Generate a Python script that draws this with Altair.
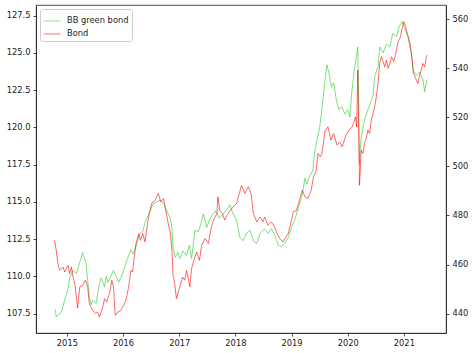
import altair as alt
import pandas as pd

series_names = ["BB green bond", "Bond"]
series_colors = ["#32cd32", "#ff0000"]
x_ticks = [2015, 2016, 2017, 2018, 2019, 2020, 2021]
left_ticks = [107.5, 110.0, 112.5, 115.0, 117.5, 120.0, 122.5, 125.0, 127.5]
right_ticks = [440, 460, 480, 500, 520, 540, 560]

green_year = [2014.79, 2014.81, 2014.84, 2014.90, 2014.96, 2015.02, 2015.05, 2015.11, 2015.17, 2015.20,
              2015.25, 2015.28, 2015.34, 2015.37, 2015.40, 2015.43, 2015.46, 2015.52, 2015.58, 2015.61,
              2015.67, 2015.70, 2015.73, 2015.79, 2015.83, 2015.88, 2015.92, 2015.97, 2016.01, 2016.05,
              2016.11, 2016.14, 2016.18, 2016.23, 2016.29, 2016.35, 2016.39, 2016.48, 2016.54, 2016.60,
              2016.66, 2016.72, 2016.78, 2016.84, 2016.87, 2016.89, 2016.93, 2016.98, 2017.01, 2017.07,
              2017.13, 2017.18, 2017.22, 2017.28, 2017.34, 2017.40, 2017.43, 2017.49, 2017.55, 2017.64,
              2017.72, 2017.78, 2017.84, 2017.90, 2017.96, 2018.02, 2018.08, 2018.14, 2018.20, 2018.26,
              2018.32, 2018.38, 2018.44, 2018.52, 2018.58, 2018.64, 2018.70, 2018.76, 2018.82, 2018.88,
              2018.94, 2019.00, 2019.06, 2019.12, 2019.18, 2019.24, 2019.27, 2019.32, 2019.38, 2019.41,
              2019.44, 2019.50, 2019.54, 2019.59, 2019.63, 2019.67, 2019.71, 2019.75, 2019.80, 2019.84,
              2019.89, 2019.95, 2020.00, 2020.04, 2020.07, 2020.12, 2020.18, 2020.21, 2020.23, 2020.27,
              2020.30, 2020.36, 2020.42, 2020.45, 2020.48, 2020.54, 2020.57, 2020.63, 2020.69, 2020.75,
              2020.80, 2020.87, 2020.92, 2020.97, 2021.01, 2021.07, 2021.13, 2021.16, 2021.22, 2021.28,
              2021.34, 2021.37, 2021.41]
green_value = [107.8, 107.3, 107.4, 107.6, 108.4, 109.2, 109.9, 110.4, 110.2, 110.6,
               111.2, 111.6, 110.9, 109.7, 108.6, 108.1, 108.4, 108.2, 109.5, 109.9,
               109.3, 110.0, 109.6, 110.1, 110.4, 110.0, 109.6, 110.0, 110.4, 110.9,
               111.5, 111.8, 111.5, 112.0, 112.8, 113.0, 113.6, 114.4, 114.9, 115.0,
               115.1, 114.9, 114.4, 113.9, 113.3, 111.9, 111.3, 111.6, 111.2, 111.7,
               111.4, 112.1, 111.2, 113.1, 113.0, 113.7, 114.2, 113.3, 113.9, 114.4,
               113.9, 114.2, 114.4, 114.8, 114.2, 113.8, 112.6, 112.4, 112.9, 113.1,
               112.4, 112.2, 112.9, 113.2, 112.9, 113.2, 112.8, 112.1, 112.0, 112.2,
               112.6, 113.3, 113.8, 114.6, 115.3, 116.6, 116.2, 116.7, 117.1, 118.3,
               118.9, 120.0, 121.2, 123.0, 124.2, 123.6, 122.7, 123.0, 121.8, 121.2,
               121.4, 120.9, 121.2, 120.7, 122.3, 123.9, 125.4, 117.5, 119.0, 120.0,
               120.5, 121.2, 121.8, 122.1, 123.4, 124.1, 125.4, 125.0, 125.6, 125.4,
               126.3, 126.1, 126.8, 127.1, 126.7, 126.1, 125.0, 123.9, 123.5, 123.7,
               123.2, 122.4, 123.2]

red_year = [2014.78, 2014.81, 2014.84, 2014.87, 2014.93, 2014.96, 2015.02, 2015.05, 2015.08, 2015.11,
            2015.14, 2015.17, 2015.19, 2015.23, 2015.28, 2015.33, 2015.37, 2015.40, 2015.46, 2015.51,
            2015.55, 2015.58, 2015.64, 2015.67, 2015.71, 2015.76, 2015.80, 2015.83, 2015.86, 2015.91,
            2015.96, 2016.01, 2016.05, 2016.10, 2016.14, 2016.17, 2016.20, 2016.23, 2016.28, 2016.31,
            2016.35, 2016.39, 2016.45, 2016.51, 2016.57, 2016.63, 2016.67, 2016.72, 2016.76, 2016.81,
            2016.84, 2016.87, 2016.89, 2016.92, 2016.95, 2017.01, 2017.06, 2017.10, 2017.13, 2017.19,
            2017.22, 2017.26, 2017.31, 2017.36, 2017.40, 2017.46, 2017.52, 2017.56, 2017.61, 2017.67,
            2017.69, 2017.72, 2017.77, 2017.81, 2017.85, 2017.91, 2017.96, 2018.02, 2018.07, 2018.11,
            2018.17, 2018.23, 2018.28, 2018.32, 2018.38, 2018.44, 2018.49, 2018.52, 2018.58, 2018.64,
            2018.70, 2018.73, 2018.79, 2018.85, 2018.88, 2018.94, 2019.00, 2019.03, 2019.09, 2019.13,
            2019.19, 2019.24, 2019.29, 2019.35, 2019.39, 2019.44, 2019.47, 2019.51, 2019.54, 2019.60,
            2019.65, 2019.70, 2019.75, 2019.81, 2019.86, 2019.90, 2019.96, 2020.02, 2020.08, 2020.11,
            2020.14, 2020.16, 2020.18, 2020.21, 2020.24, 2020.27, 2020.30, 2020.33, 2020.36, 2020.39,
            2020.42, 2020.45, 2020.48, 2020.51, 2020.54, 2020.57, 2020.60, 2020.63, 2020.66, 2020.69,
            2020.72, 2020.75, 2020.78, 2020.82, 2020.87, 2020.89, 2020.94, 2020.97, 2021.00, 2021.03,
            2021.07, 2021.11, 2021.15, 2021.17, 2021.21, 2021.25, 2021.28, 2021.31, 2021.34, 2021.37,
            2021.40, 2021.42]
red_value = [469.9, 465.8, 460.4, 457.7, 459.0, 457.0, 459.7, 456.3, 459.0, 454.9,
             452.2, 446.8, 442.3, 450.9, 451.5, 453.6, 450.9, 444.1, 441.3, 440.0,
             440.7, 438.6, 442.7, 446.1, 444.7, 448.2, 453.6, 450.9, 439.3, 440.7,
             441.3, 443.4, 445.4, 450.9, 457.7, 457.0, 463.1, 468.6, 472.6, 469.9,
             472.6, 469.2, 478.8, 484.9, 486.2, 489.0, 485.5, 486.9, 482.1, 476.0,
             473.3, 465.8, 455.6, 452.2, 446.1, 450.9, 454.9, 453.6, 457.7, 450.9,
             458.4, 461.7, 465.1, 461.7, 467.9, 470.6, 468.6, 474.0, 478.1, 480.8,
             487.6, 482.1, 480.8, 478.1, 480.1, 482.1, 483.5, 484.9, 489.0, 492.3,
             489.0, 491.7, 489.0, 480.8, 477.4, 479.4, 477.4, 479.4, 476.0, 477.4,
             475.3, 473.3, 470.6, 469.2, 470.6, 472.6, 478.1, 481.5, 482.1, 485.5,
             490.3, 487.6, 486.9, 490.3, 495.7, 498.5, 505.3, 503.9, 505.3, 514.8,
             516.1, 510.7, 513.4, 508.7, 510.0, 508.0, 512.1, 514.8, 516.1, 518.2,
             520.2, 516.1, 539.3, 492.3, 506.6, 505.3, 509.4, 511.4, 514.8, 513.4,
             518.9, 521.6, 524.3, 528.4, 533.8, 542.0, 544.7, 542.7, 540.6, 543.3,
             540.0, 542.0, 544.7, 542.7, 547.4, 550.2, 552.9, 556.3, 559.0, 557.0,
             553.5, 550.2, 543.3, 537.9, 535.9, 533.8, 537.2, 539.3, 542.0, 540.6,
             544.7, 545.4]

green_df = pd.DataFrame({"year": green_year, "value": green_value, "series": series_names[0]})
red_df = pd.DataFrame({"year": red_year, "value": red_value, "series": series_names[1]})

FONT = "DejaVu Sans"

color = alt.Color(
    "series:N",
    scale=alt.Scale(domain=series_names, range=series_colors),
    legend=alt.Legend(
        title=None,
        orient="none",
        legendX=4,
        legendY=4,
        symbolType="stroke",
        symbolSize=289,
        symbolStrokeWidth=1,
        symbolOpacity=0.55,
        labelFont=FONT,
        labelFontSize=8.3,
        labelColor="#222",
        labelOffset=6,
        rowPadding=-5,
        padding=3,
        fillColor="rgba(255,255,255,0.85)",
        strokeColor="#cccccc",
        cornerRadius=2,
    ),
)

x = alt.X(
    "year:Q",
    scale=alt.Scale(domain=[2014.45, 2021.75], nice=False, zero=False),
    axis=alt.Axis(values=x_ticks, format="d", title=None, grid=False, labelPadding=2),
)

common_axis = dict(title=None, grid=False, tickSize=3, labelPadding=3, labelFont=FONT,
                   labelFontSize=8.3, labelColor="#222", domainColor="#222", tickColor="#222",
                   domainWidth=0.8, tickWidth=0.8)

green = alt.Chart(green_df).mark_line(strokeWidth=0.7, opacity=0.9).encode(
    x=x,
    y=alt.Y("value:Q", scale=alt.Scale(domain=[106.2, 128.22], nice=False, zero=False),
            axis=alt.Axis(orient="left", values=left_ticks, format=".1f", **common_axis)),
    color=color,
)

red = alt.Chart(red_df).mark_line(strokeWidth=0.7, opacity=0.85).encode(
    x=x,
    y=alt.Y("value:Q", scale=alt.Scale(domain=[432.1, 565.8], nice=False, zero=False),
            axis=alt.Axis(orient="right", values=right_ticks, format="d", **common_axis)),
    color=color,
)

chart = (
    alt.layer(green, red)
    .resolve_scale(y="independent")
    .properties(width=410, height=328,
                padding={"left": 36, "top": 5, "right": 28, "bottom": 20},
                autosize=alt.AutoSizeParams(type="none"),
                background="white")
    .configure_view(stroke="#222", strokeWidth=0.8)
    .configure_axis(labelFont=FONT, labelFontSize=8.3, labelColor="#222",
                    domainColor="#222", tickColor="#222", tickSize=3,
                    domainWidth=0.8, tickWidth=0.8)
)

chart.save("out.html", embed_options={"renderer": "svg", "actions": False})
